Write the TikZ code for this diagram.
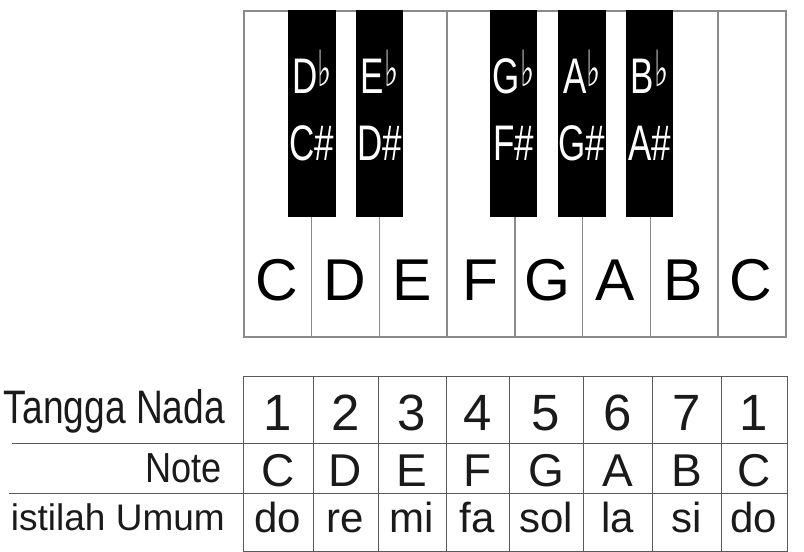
\documentclass[tikz,border=0pt]{standalone}
\usepackage{fontspec}
\setmainfont{Liberation Sans}
\newfontfamily\narrowkeys[FakeStretch=0.7]{Liberation Sans}
\newfontfamily\symbfont{DejaVu Sans}
\newcommand{\flatmark}{\raisebox{7pt}{\symbfont\addfontfeature{FakeStretch=0.6}\fontsize{50}{50}\selectfont ♭}}
\definecolor{keyline}{HTML}{8A8A8A}
\definecolor{gridline}{HTML}{5A5A5A}
\definecolor{ink}{HTML}{1A1A1A}
\tikzset{
    whitekey/.style={draw=keyline, line width=1.5pt, minimum width=67.75pt, minimum height=326pt, inner sep=0pt, anchor=north west},
    blackkey/.style={fill=black, minimum width=47.5pt, minimum height=207pt, inner sep=0pt, anchor=north},
    keyname/.style={anchor=base, inner sep=0pt, font=\fontsize{59}{59}\selectfont},
    blackname/.style={anchor=base, inner sep=0pt, text=white, font=\narrowkeys\fontsize{50}{50}\selectfont},
    rowname/.style={anchor=base east, inner sep=0pt, text=ink},
    cell/.style={anchor=base, inner sep=0pt, text=ink},
    grid/.style={draw=gridline, line width=1pt}
}
\begin{document}
\begin{tikzpicture}[x=1pt, y=-1pt]
        \useasboundingbox (0,0) rectangle (804,552);
        % white keys
        \node[whitekey] (keyC) at (243,10) {};
        \node[whitekey] (keyD) at (310.75,10) {};
        \node[whitekey] (keyE) at (378.5,10) {};
        \node[whitekey] (keyF) at (446.25,10) {};
        \node[whitekey] (keyG) at (514,10) {};
        \node[whitekey] (keyA) at (581.75,10) {};
        \node[whitekey] (keyB) at (649.5,10) {};
        \node[whitekey] (keyCC) at (717.25,10) {};
        % black keys
        \node[blackkey] (keyCs) at (312,10) {};
        \node[blackkey] (keyDs) at (379.5,10) {};
        \node[blackkey] (keyFs) at (513.5,10) {};
        \node[blackkey] (keyGs) at (582,10) {};
        \node[blackkey] (keyAs) at (649.5,10) {};
        % names on the keys
        \node[keyname] (nameC) at (276.9,300) {C};
        \node[keyname] (nameD) at (344.6,300) {D};
        \node[keyname] (nameE) at (412.4,300) {E};
        \node[keyname] (nameF) at (480.1,300) {F};
        \node[keyname] (nameG) at (547.9,300) {G};
        \node[keyname] (nameA) at (615.6,300) {A};
        \node[keyname] (nameB) at (683.4,300) {B};
        \node[keyname] (nameCC) at (751.1,300) {C};
        \node[blackname] (flatD) at (312,93) {D\flatmark};
        \node[blackname] (sharpC) at (312,160) {C\#};
        \node[blackname] (flatE) at (379.5,93) {E\flatmark};
        \node[blackname] (sharpD) at (379.5,160) {D\#};
        \node[blackname] (flatG) at (513.5,93) {G\flatmark};
        \node[blackname] (sharpF) at (513.5,160) {F\#};
        \node[blackname] (flatA) at (582,93) {A\flatmark};
        \node[blackname] (sharpG) at (582,160) {G\#};
        \node[blackname] (flatB) at (649.5,93) {B\flatmark};
        \node[blackname] (sharpA) at (649.5,160) {A\#};
        % table
        \draw[grid] (243,376) rectangle (787,551);
        \draw[grid] (12,443) -- (787,443);
        \draw[grid] (9,493) -- (787,493);
        \draw[grid] (313,376) -- (313,551);
        \draw[grid] (378,376) -- (378,551);
        \draw[grid] (446,376) -- (446,551);
        \draw[grid] (509,376) -- (509,551);
        \draw[grid] (583,376) -- (583,551);
        \draw[grid] (652,376) -- (652,551);
        \draw[grid] (721,376) -- (721,551);
        \node[rowname, font=\addfontfeature{FakeStretch=0.79}\fontsize{47}{47}\selectfont] (tangga) at (225,423) {Tangga Nada};
        \node[rowname, font=\addfontfeature{FakeStretch=0.86}\fontsize{42}{42}\selectfont] (note) at (222,482) {Note};
        \node[rowname, font=\fontsize{37}{37}\selectfont] (istilah) at (225,530) {istilah Umum};
        \node[cell, font=\fontsize{51}{51}\selectfont] (num1) at (278,430) {1};
        \node[cell, font=\fontsize{51}{51}\selectfont] (num2) at (345.5,430) {2};
        \node[cell, font=\fontsize{51}{51}\selectfont] (num3) at (412,430) {3};
        \node[cell, font=\fontsize{51}{51}\selectfont] (num4) at (477.5,430) {4};
        \node[cell, font=\fontsize{51}{51}\selectfont] (num5) at (546,430) {5};
        \node[cell, font=\fontsize{51}{51}\selectfont] (num6) at (617.5,430) {6};
        \node[cell, font=\fontsize{51}{51}\selectfont] (num7) at (686.5,430) {7};
        \node[cell, font=\fontsize{51}{51}\selectfont] (num8) at (754,430) {1};
        \node[cell, font=\fontsize{46}{46}\selectfont] (noteC) at (278,486) {C};
        \node[cell, font=\fontsize{46}{46}\selectfont] (noteD) at (345.5,486) {D};
        \node[cell, font=\fontsize{46}{46}\selectfont] (noteE) at (412,486) {E};
        \node[cell, font=\fontsize{46}{46}\selectfont] (noteF) at (477.5,486) {F};
        \node[cell, font=\fontsize{46}{46}\selectfont] (noteG) at (546,486) {G};
        \node[cell, font=\fontsize{46}{46}\selectfont] (noteA) at (617.5,486) {A};
        \node[cell, font=\fontsize{46}{46}\selectfont] (noteB) at (686.5,486) {B};
        \node[cell, font=\fontsize{46}{46}\selectfont] (noteCC) at (754,486) {C};
        \node[cell, font=\fontsize{42}{42}\selectfont] (solDo) at (278,532) {do};
        \node[cell, font=\fontsize{42}{42}\selectfont] (solRe) at (345.5,532) {re};
        \node[cell, font=\fontsize{42}{42}\selectfont] (solMi) at (412,532) {mi};
        \node[cell, font=\fontsize{42}{42}\selectfont] (solFa) at (477.5,532) {fa};
        \node[cell, font=\fontsize{42}{42}\selectfont] (solSol) at (546,532) {sol};
        \node[cell, font=\fontsize{42}{42}\selectfont] (solLa) at (617.5,532) {la};
        \node[cell, font=\fontsize{42}{42}\selectfont] (solSi) at (686.5,532) {si};
        \node[cell, font=\fontsize{42}{42}\selectfont] (solDoo) at (754,532) {do};
    \end{tikzpicture}
\end{document}
